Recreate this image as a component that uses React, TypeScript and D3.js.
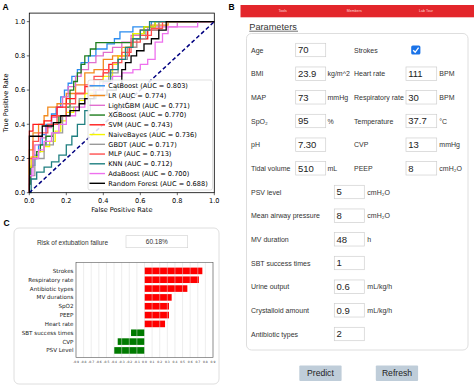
import React from 'react';
import * as d3 from 'd3';

// ---- panel A data (ROC curves) ----
const modelNames = ['CatBoost', 'LR', 'LightGBM', 'XGBoost', 'SVM', 'NaiveBayes', 'GBDT', 'MLP', 'KNN', 'AdaBoost', 'Random Forest'];
const aucValues = [0.803, 0.774, 0.771, 0.770, 0.743, 0.736, 0.717, 0.713, 0.712, 0.700, 0.688];
const modelColors = ['#2a8cf0', '#f28a1e', '#e06fcf', '#1e7d1e', '#ff1a1a', '#f5f500', '#9a9a9a', '#ff4f4f', '#1f7f80', '#ee70ee', '#000000'];

const catboostRoc = [[0, 0], [0, 0.08], [0.01, 0.16], [0.03, 0.22], [0.05, 0.28], [0.07, 0.34], [0.09, 0.4], [0.12, 0.46], [0.145, 0.5], [0.17, 0.56], [0.19, 0.6], [0.21, 0.64], [0.23, 0.68], [0.26, 0.72], [0.28, 0.76], [0.32, 0.8], [0.36, 0.84], [0.42, 0.87], [0.46, 0.9], [0.49, 0.94], [0.56, 0.97], [0.66, 1], [1, 1]];
const lrRoc = [[0, 0], [0, 0.25], [0.02, 0.35], [0.05, 0.4], [0.08, 0.45], [0.1, 0.5], [0.15, 0.52], [0.2, 0.58], [0.25, 0.63], [0.3, 0.7], [0.35, 0.72], [0.4, 0.78], [0.45, 0.8], [0.5, 0.85], [0.55, 0.9], [0.6, 0.95], [0.65, 0.98], [0.75, 1], [1, 1]];
const lightgbmRoc = [[0, 0], [0, 0.05], [0.01, 0.2], [0.03, 0.28], [0.06, 0.32], [0.09, 0.38], [0.12, 0.44], [0.15, 0.5], [0.18, 0.56], [0.21, 0.62], [0.25, 0.68], [0.28, 0.72], [0.32, 0.76], [0.36, 0.8], [0.4, 0.82], [0.45, 0.85], [0.5, 0.88], [0.55, 0.92], [0.6, 0.95], [0.64, 0.97], [0.8, 1], [1, 1]];
const xgboostRoc = [[0, 0], [0, 0.05], [0.005, 0.15], [0.02, 0.2], [0.04, 0.24], [0.06, 0.28], [0.09, 0.33], [0.13, 0.4], [0.16, 0.45], [0.2, 0.5], [0.22, 0.6], [0.24, 0.65], [0.26, 0.7], [0.28, 0.75], [0.3, 0.8], [0.33, 0.84], [0.36, 0.877], [0.56, 0.93], [0.62, 0.97], [0.68, 1], [1, 1]];
const svmRoc = [[0, 0], [0, 0.36], [0.02, 0.4], [0.08, 0.42], [0.12, 0.45], [0.15, 0.5], [0.2, 0.55], [0.25, 0.58], [0.3, 0.62], [0.35, 0.66], [0.4, 0.7], [0.43, 0.75], [0.48, 0.8], [0.54, 0.85], [0.58, 0.9], [0.64, 0.95], [0.7, 1], [1, 1]];
const naiveBayesRoc = [[0, 0], [0, 0.15], [0.01, 0.21], [0.05, 0.24], [0.08, 0.27], [0.11, 0.3], [0.14, 0.36], [0.17, 0.42], [0.2, 0.47], [0.24, 0.5], [0.27, 0.54], [0.3, 0.58], [0.35, 0.62], [0.4, 0.68], [0.45, 0.75], [0.48, 0.8], [0.52, 0.85], [0.56, 0.93], [0.62, 0.97], [0.68, 1], [1, 1]];
const gbdtRoc = [[0, 0], [0, 0.1], [0.03, 0.2], [0.08, 0.28], [0.13, 0.35], [0.18, 0.45], [0.22, 0.5], [0.27, 0.55], [0.32, 0.6], [0.38, 0.65], [0.43, 0.7], [0.48, 0.78], [0.53, 0.85], [0.58, 0.9], [0.63, 0.95], [0.7, 1], [1, 1]];
const mlpRoc = [[0, 0], [0, 0.2], [0.02, 0.3], [0.05, 0.35], [0.1, 0.4], [0.15, 0.45], [0.2, 0.52], [0.25, 0.58], [0.3, 0.63], [0.35, 0.68], [0.4, 0.72], [0.45, 0.76], [0.5, 0.82], [0.55, 0.88], [0.6, 0.92], [0.66, 0.96], [0.72, 1], [1, 1]];
const knnRoc = [[0, 0], [0.01, 0.08], [0.04, 0.12], [0.08, 0.15], [0.12, 0.18], [0.16, 0.22], [0.2, 0.28], [0.23, 0.33], [0.26, 0.4], [0.3, 0.48], [0.33, 0.55], [0.36, 0.6], [0.4, 0.65], [0.44, 0.72], [0.48, 0.78], [0.52, 0.85], [0.56, 0.9], [0.6, 0.95], [0.65, 1], [1, 1]];
const adaboostRoc = [[0, 0], [0, 0.1], [0.02, 0.2], [0.05, 0.25], [0.08, 0.3], [0.12, 0.35], [0.16, 0.4], [0.2, 0.45], [0.25, 0.5], [0.3, 0.55], [0.35, 0.6], [0.4, 0.64], [0.45, 0.68], [0.5, 0.7], [0.56, 0.72], [0.6, 0.75], [0.64, 0.78], [0.68, 0.88], [0.72, 0.93], [0.75, 0.97], [0.91, 1], [1, 1]];
const randomForestRoc = [[0, 0], [0, 0.33], [0.07, 0.39], [0.13, 0.41], [0.17, 0.45], [0.22, 0.48], [0.27, 0.52], [0.3, 0.55], [0.35, 0.57], [0.42, 0.6], [0.47, 0.62], [0.5, 0.72], [0.52, 0.76], [0.55, 0.8], [0.58, 0.83], [0.62, 0.87], [0.66, 0.9], [0.7, 0.95], [0.74, 1], [1, 1]];
const rocCurves = [catboostRoc, lrRoc, lightgbmRoc, xgboostRoc, svmRoc, naiveBayesRoc, gbdtRoc, mlpRoc, knnRoc, adaboostRoc, randomForestRoc];
const rocTicks = [0, 0.2, 0.4, 0.6, 0.8, 1.0];

// ---- panel B data (form) ----
const leftLabels = ['Age', 'BMI', 'MAP', 'SpO₂', 'pH', 'Tidal volume'];
const leftValues = ['70', '23.9', '73', '95', '7.30', '510'];
const leftUnits = ['', 'kg/m^2', 'mmHg', '%', '', 'mL'];
const rightLabels = ['Strokes', 'Heart rate', 'Respiratory rate', 'Temperature', 'CVP', 'PEEP'];
const rightValues = ['', '111', '30', '37.7', '13', '8'];
const rightUnits = ['', 'BPM', 'BPM', '°C', 'mmHg', 'cmH₂O'];
const lowerLabels = ['PSV level', 'Mean airway pressure', 'MV duration', 'SBT success times', 'Urine output', 'Crystalloid amount', 'Antibiotic types'];
const lowerValues = ['5', '8', '48', '1', '0.6', '0.9', '2'];
const lowerUnits = ['cmH₂O', 'cmH₂O', 'h', '', 'mL/kg/h', 'mL/kg/h', ''];
const menuItems = ['Tools', 'Members', 'Lab Tour'];

// ---- panel C data (feature contributions) ----
const featureNames = ['Strokes', 'Respiratory rate', 'Antibiotic types', 'MV durations', 'SpO2', 'PEEP', 'Heart rate', 'SBT success times', 'CVP', 'PSV Level'];
const contributions = [0.76, 0.716, 0.563, 0.357, 0.322, 0.322, 0.27, -0.177, -0.352, -0.40];
const contributionTicks = d3.range(-9, 10).map(d => d / 10);
const riskValue = '60.18%';

const mpl = 'DejaVu Sans, sans-serif';
const web = 'Liberation Sans, Arial, sans-serif';

const RocPanel = () => {
    const x = d3.scaleLinear().domain([0, 1]).range([29.3, 214.3]);
    const y = d3.scaleLinear().domain([0, 1.05]).range([192.7, 13.1]);
    const line = d3.line<number[]>().x(d => x(d[0])).y(d => y(d[1])).curve(d3.curveStepAfter);
    const legendY = d3.scaleLinear().domain([0, 10]).range([85.8, 183.3]);
    return (
        <g>
            <defs>
                <clipPath id="rocClip">
                    <rect x={x(0) - 1} y={y(1.05)} width={x(1) - x(0) + 2} height={y(0) - y(1.05) + 1} />
                </clipPath>
            </defs>
            <g clipPath="url(#rocClip)">
                {rocCurves.map((c, i) => (
                    <path key={i} d={line(c) || ''} fill="none" stroke={modelColors[i]} strokeWidth={1.3} />
                ))}
                <line x1={x(0)} y1={y(0)} x2={x(1)} y2={y(1)} stroke="#000080" strokeWidth={1.5} strokeDasharray="4,2.5" />
            </g>
            <rect x={x(0)} y={y(1.05)} width={x(1) - x(0)} height={y(0) - y(1.05)} fill="none" stroke="#000" strokeWidth={0.8} />
            {rocTicks.map(t => (
                <g key={'x' + t}>
                    <line x1={x(t)} x2={x(t)} y1={y(0)} y2={y(0) + 2.5} stroke="#000" strokeWidth={0.6} />
                    <text x={x(t)} y={y(0) + 10} textAnchor="middle" fontSize={6.6} fontFamily={mpl}>{d3.format('.1f')(t)}</text>
                    <line x1={x(0)} x2={x(0) - 2.5} y1={y(t)} y2={y(t)} stroke="#000" strokeWidth={0.6} />
                    <text x={x(0) - 4} y={y(t) + 2.3} textAnchor="end" fontSize={6.6} fontFamily={mpl}>{d3.format('.1f')(t)}</text>
                </g>
            ))}
            <text x={(x(0) + x(1)) / 2} y={212} textAnchor="middle" fontSize={6.6} fontFamily={mpl}>False Positive Rate</text>
            <text transform={`translate(8,${(y(0) + y(1.05)) / 2}) rotate(-90)`} textAnchor="middle" fontSize={6.6} fontFamily={mpl}>True Positive Rate</text>
            <rect x={88} y={80} width={124.5} height={110} rx={2} fill="#fff" fillOpacity={0.85} stroke="#cccccc" strokeWidth={0.6} />
            {modelNames.map((m, i) => (
                <g key={m}>
                    <line x1={89.5} x2={105} y1={legendY(i)} y2={legendY(i)} stroke={modelColors[i]} strokeWidth={1.4} />
                    <text x={108.3} y={legendY(i) + 2.3} fontSize={6.6} fontFamily={mpl}>{`${m} (AUC = ${aucValues[i].toFixed(3)})`}</text>
                </g>
            ))}
        </g>
    );
};

const InputBox = ({ x, y, w, value }: { x: number; y: number; w: number; value: string }) => (
    <g>
        <rect x={x} y={y - 6.7} width={w} height={13.4} fill="#fff" stroke="#cfcfcf" strokeWidth={0.7} />
        <text x={x + 2.2} y={y + 3.4} fontSize={9.5} fontFamily={web} fill="#222">{value}</text>
    </g>
);

const FormPanel = () => {
    const rowY = d3.scaleLinear().domain([0, 12]).range([50, 334]);
    const menuX = d3.scalePoint<string>().domain(menuItems).range([282.7, 426]);
    const label = { fontSize: 7, fontFamily: web, fill: '#333' };
    return (
        <g>
            <rect x={240.5} y={5} width={233.5} height={12.3} fill="#e3262b" />
            {menuItems.map(m => (
                <text key={m} x={menuX(m)} y={12.3} textAnchor="middle" fontSize={3.6} fontFamily={web} fill="#ffd6d6">{m}</text>
            ))}
            <text x={249.3} y={29.5} fontSize={9.2} fontFamily={web} fill="#333">Parameters</text>
            <line x1={249.3} x2={298} y1={31.2} y2={31.2} stroke="#333" strokeWidth={0.7} />
            <rect x={246.5} y={33.5} width={221.5} height={316.5} rx={5} fill="#fff" stroke="#d6d6d6" strokeWidth={0.8} />
            {leftLabels.map((l, i) => (
                <g key={l}>
                    <text x={251} y={rowY(i) + 2.5} {...label}>{l}</text>
                    <InputBox x={295.7} y={rowY(i)} w={30} value={leftValues[i]} />
                    {leftUnits[i] && <text x={327.5} y={rowY(i) + 2.5} {...label}>{leftUnits[i]}</text>}
                </g>
            ))}
            {rightLabels.map((l, i) => (
                <g key={l}>
                    <text x={354} y={rowY(i) + 2.5} {...label}>{l}</text>
                    {rightValues[i] ? <InputBox x={406} y={rowY(i)} w={30.7} value={rightValues[i]} /> : (
                        <g>
                            <rect x={411.2} y={rowY(i) - 4.6} width={9.2} height={9.2} rx={1.6} fill="#1a73e8" />
                            <path d={`M${413.2},${rowY(i) + 0.2} L${415.2},${rowY(i) + 2.3} L${418.6},${rowY(i) - 2.4}`} fill="none" stroke="#fff" strokeWidth={1.3} />
                        </g>
                    )}
                    {rightUnits[i] && <text x={439.3} y={rowY(i) + 2.5} {...label}>{rightUnits[i]}</text>}
                </g>
            ))}
            {lowerLabels.map((l, i) => (
                <g key={l}>
                    <text x={251} y={rowY(i + 6) + 2.5} {...label}>{l}</text>
                    <InputBox x={334.3} y={rowY(i + 6)} w={30} value={lowerValues[i]} />
                    {lowerUnits[i] && <text x={367.3} y={rowY(i + 6) + 2.5} {...label}>{lowerUnits[i]}</text>}
                </g>
            ))}
            {['Predict', 'Refresh'].map((b, i) => (
                <g key={b}>
                    <rect x={i === 0 ? 299.3 : 375.8} y={365.5} width={42.3} height={15.5} rx={1} fill="#bfcdd9" />
                    <text x={(i === 0 ? 299.3 : 375.8) + 21.15} y={376.2} textAnchor="middle" fontSize={8.6} fontFamily={web} fill="#222">{b}</text>
                </g>
            ))}
        </g>
    );
};

const ContributionPanel = () => {
    const x = d3.scaleLinear().domain([-0.9, 0.9]).range([76, 213]);
    const y = d3.scaleLinear().domain([-0.95, 9.8]).range([262.5, 357.5]);
    const barH = 6.6;
    return (
        <g>
            <rect x={14} y={228} width={205} height={156} rx={5} fill="#fff" stroke="#d6d6d6" strokeWidth={0.8} />
            <text x={72.5} y={245} textAnchor="middle" fontSize={6.5} fontFamily={web} fill="#333">Risk of extubation failure</text>
            <rect x={126} y={235.7} width={61.7} height={12} fill="#fff" stroke="#d0d0d0" strokeWidth={0.6} />
            <text x={156.8} y={244.2} textAnchor="middle" fontSize={6.5} fontFamily={web} fill="#333">{riskValue}</text>
            {contributions.map((v, i) => (
                <rect key={featureNames[i]} x={x(Math.min(0, v))} y={y(i) - barH / 2} width={Math.abs(x(v) - x(0))} height={barH}
                    fill={v >= 0 ? '#ff0000' : '#007a00'} />
            ))}
            {contributionTicks.map(t => (
                <g key={t}>
                    <line x1={x(t)} x2={x(t)} y1={262.5} y2={357.5} stroke="#dcdcdc" strokeWidth={0.5} />
                    <text x={x(t)} y={363} textAnchor="middle" fontSize={3} fontFamily={mpl} fill="#333">{t.toFixed(1)}</text>
                </g>
            ))}
            <rect x={76} y={262.5} width={137} height={95} fill="none" stroke="#555" strokeWidth={0.6} />
            {featureNames.map((f, i) => (
                <text key={f} x={73.5} y={y(i) + 2} textAnchor="end" fontSize={5.6} fontFamily={mpl} fill="#222">{f}</text>
            ))}
        </g>
    );
};

const App = () => {
    return (
        <svg width={474} height={386} style={{ position: 'absolute', left: 0, top: 0, background: '#fff' }}>
            <rect width={474} height={386} fill="#fff" />
            <RocPanel />
            <FormPanel />
            <ContributionPanel />
            <text x={2.5} y={10} fontSize={8.5} fontWeight="bold" fontFamily={web}>A</text>
            <text x={228.5} y={10} fontSize={8.5} fontWeight="bold" fontFamily={web}>B</text>
            <text x={3.5} y={225.5} fontSize={8.5} fontWeight="bold" fontFamily={web}>C</text>
        </svg>
    );
};

export default App;
